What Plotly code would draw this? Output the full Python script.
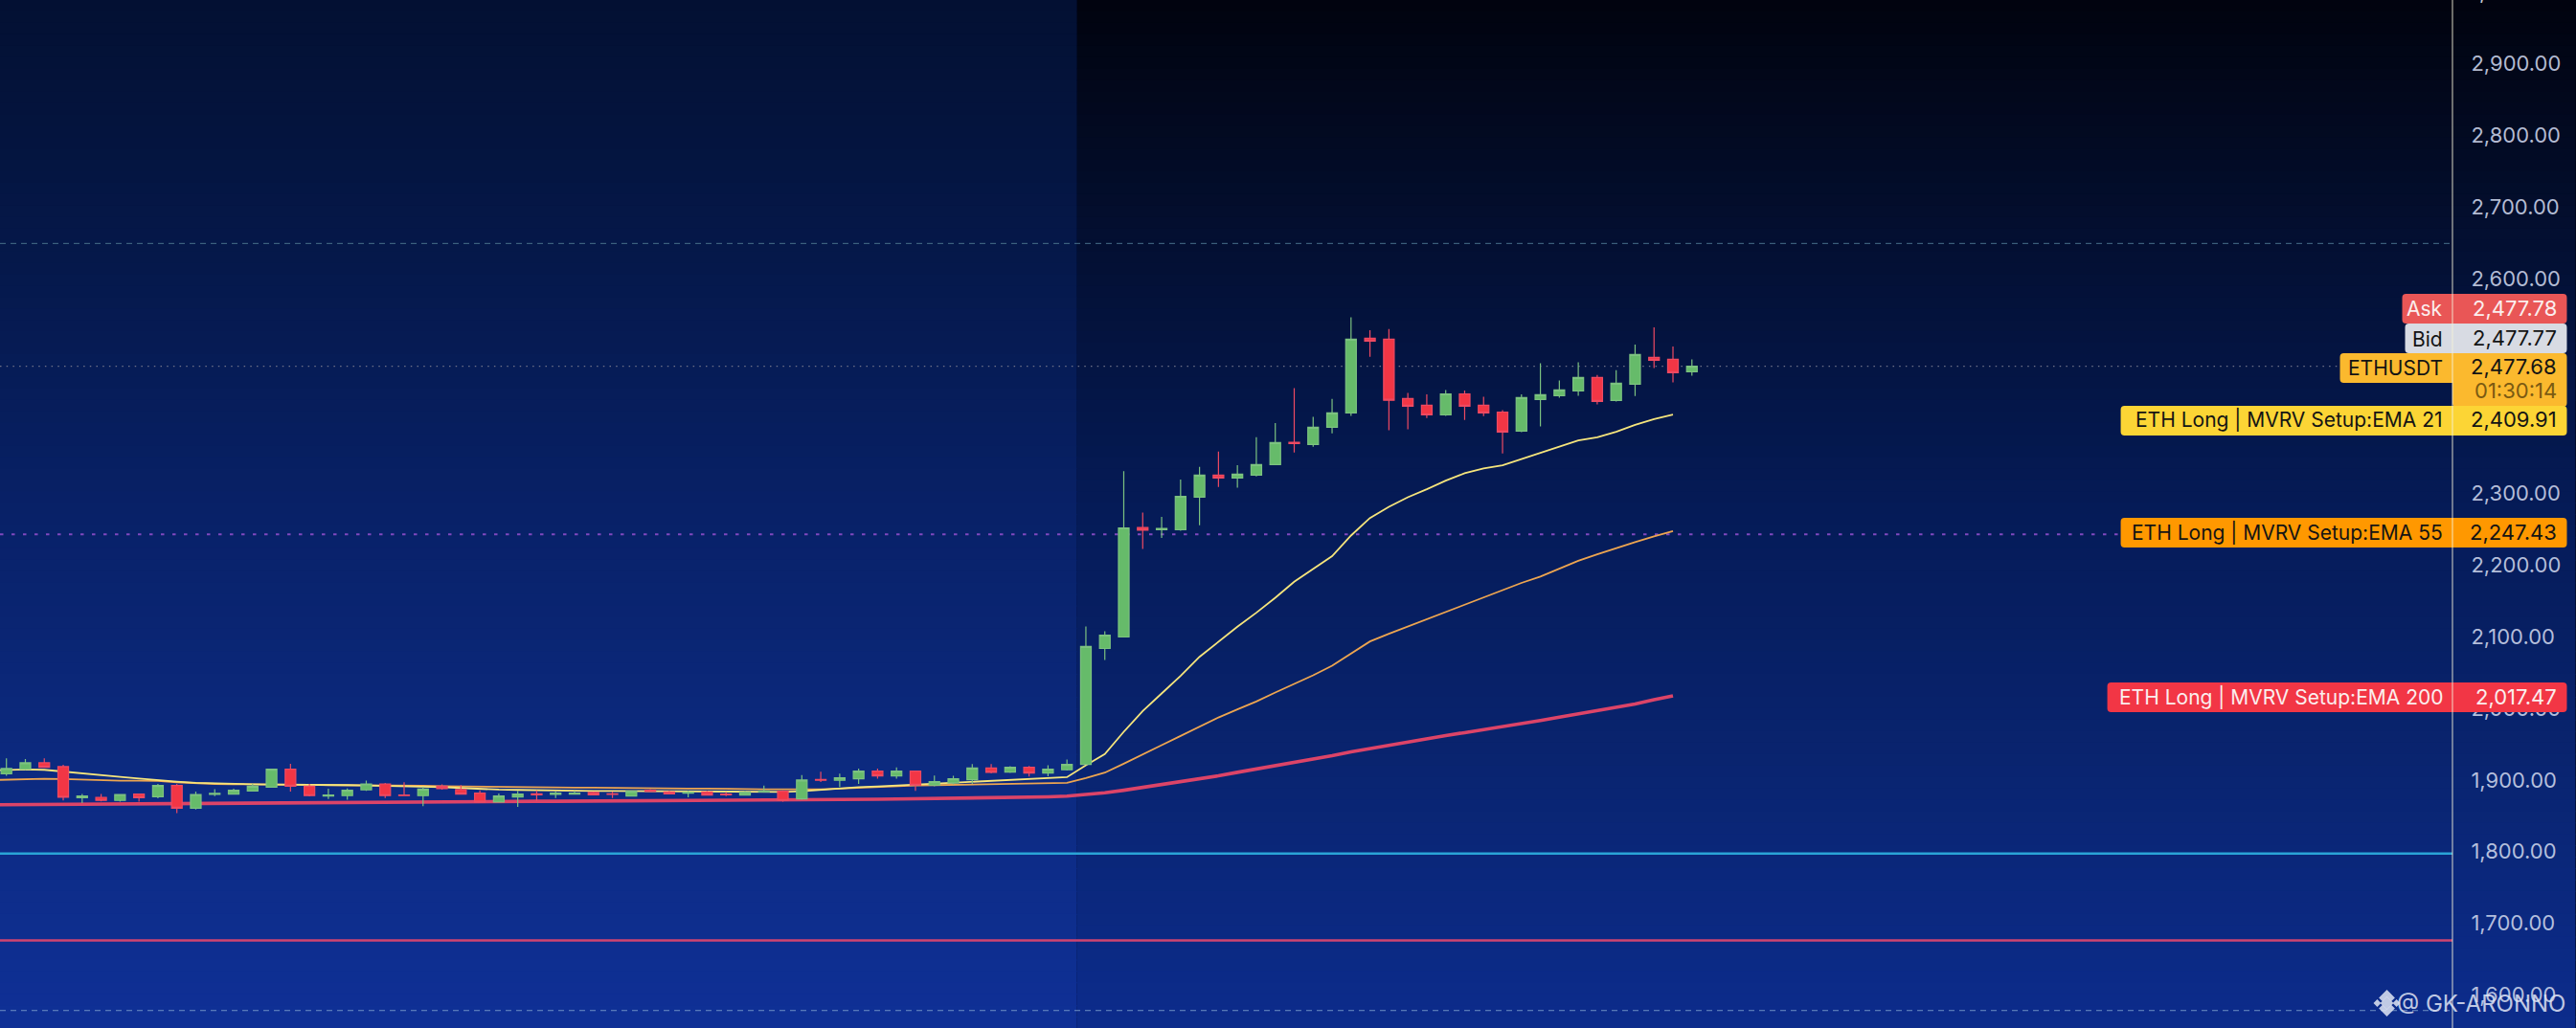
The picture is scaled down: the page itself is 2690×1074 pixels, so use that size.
import plotly.graph_objects as go

# ---------- data ----------
opens = [1908.7,1914.9,1923.9,1918.5,1875.3,1875.7,1871.3,1880.2,1876.6,1892.2,
1860.6,1879.7,1880.2,1884.6,1890.0,1914.9,1891.3,1877.5,1878.0,1886.0,
1894.4,1878.9,1878.0,1891.3,1886.4,1881.5,1869.1,1876.2,1880.6,1879.7,
1880.2,1882.4,1880.6,1877.5,1885.5,1883.3,1881.5,1883.3,1880.2,1878.9,
1883.3,1884.2,1873.5,1900.7,1899.4,1901.6,1912.3,1905.6,1912.3,1892.7,
1895.8,1900.2,1916.7,1910.9,1917.6,1909.6,1914.1,1921.7,2083.5,2099.5,
2252.4,2249.3,2249.3,2294.7,2325.5,2321.4,2325.5,2340.2,2371.3,2368.2,
2392.3,2412.3,2516.6,2515.2,2432.4,2423.0,2409.6,2439.0,2423.0,2413.6,
2386.9,2431.0,2436.4,2443.1,2461.8,2429.7,2452.4,2489.8,2487.2,2469.8]
highs = [1930.1,1929.2,1930.1,1921.2,1880.2,1880.2,1879.7,1881.1,1894.4,1894.4,
1883.8,1886.9,1887.8,1894.4,1914.9,1922.5,1894.4,1887.8,1888.2,1898.9,
1895.8,1896.7,1890.0,1893.6,1892.7,1885.5,1881.1,1884.6,1885.5,1883.8,
1884.6,1883.8,1883.8,1884.6,1886.9,1884.6,1884.6,1884.6,1882.9,1884.6,
1892.2,1885.5,1906.9,1911.4,1908.7,1915.8,1915.8,1917.6,1913.2,1906.0,
1905.6,1922.1,1922.1,1919.0,1919.4,1920.3,1928.3,2114.2,2107.6,2331.2,
2273.3,2267.1,2319.2,2337.0,2358.4,2339.3,2378.5,2398.1,2447.1,2407.0,
2431.9,2546.0,2527.7,2529.5,2440.4,2438.2,2444.4,2443.5,2435.0,2416.3,
2438.2,2481.8,2457.8,2483.2,2465.4,2472.0,2507.7,2531.7,2505.0,2487.2]
lows = [1905.6,1913.6,1916.7,1871.3,1867.7,1869.9,1869.5,1869.5,1874.4,1853.5,
1858.8,1877.5,1879.3,1883.8,1889.1,1883.8,1877.1,1873.5,1872.2,1884.6,
1874.8,1877.5,1863.3,1886.4,1879.7,1868.6,1868.6,1862.4,1870.4,1874.8,
1879.7,1878.9,1874.8,1877.1,1883.3,1880.2,1875.7,1878.4,1877.5,1878.4,
1882.4,1869.5,1872.2,1897.1,1890.0,1894.4,1901.6,1901.6,1884.6,1890.9,
1893.6,1894.4,1909.2,1909.6,1904.7,1905.1,1913.2,1921.7,2067.4,2099.5,
2222.5,2237.7,2247.9,2255.5,2309.0,2308.1,2323.7,2340.2,2357.1,2365.1,
2383.8,2408.3,2490.7,2388.2,2389.6,2405.2,2408.3,2402.5,2407.9,2355.7,
2385.6,2393.6,2433.7,2436.4,2424.4,2428.4,2435.9,2475.1,2455.1,2464.4]
closes = [1915.8,1923.9,1917.6,1875.7,1877.5,1871.3,1879.7,1875.3,1892.2,1860.6,
1879.7,1881.1,1885.5,1891.3,1914.9,1891.3,1878.0,1878.9,1885.5,1894.4,
1878.0,1878.0,1887.3,1887.8,1880.2,1869.1,1877.5,1880.2,1879.3,1881.5,
1881.5,1879.3,1879.7,1884.2,1883.8,1880.6,1882.9,1878.9,1879.3,1882.9,
1884.6,1871.3,1899.8,1899.4,1902.9,1912.3,1905.6,1912.3,1892.7,1897.6,
1901.6,1916.7,1910.5,1917.6,1909.6,1914.9,1921.6,2086.2,2102.2,2251.9,
2248.8,2251.0,2296.0,2325.5,2321.4,2326.8,2340.2,2370.9,2369.6,2392.3,
2412.3,2515.3,2512.6,2430.1,2421.7,2409.6,2439.0,2421.7,2412.3,2385.6,
2433.7,2437.7,2444.4,2461.8,2428.4,2453.8,2493.9,2485.8,2468.5,2477.68]

# EMA values start one bar before the first visible candle (index -1)
ema21 = [1913.0,1913.6,1914.5,1914.1,1911.4,1908.7,1906.5,1904.3,1902.0,1899.4,1897.6,
1895.8,1894.9,1894.4,1894.0,1893.6,1893.6,1893.1,1892.7,1892.7,1892.2,
1891.8,1891.3,1890.9,1890.0,1888.7,1887.3,1886.4,1886.0,1885.5,1885.5,
1885.1,1884.6,1884.6,1884.4,1884.2,1884.2,1884.2,1883.8,1883.8,1883.8,
1883.8,1883.3,1884.2,1886.4,1888.7,1890.0,1890.9,1892.2,1893.6,1894.4,
1895.3,1897.6,1898.9,1899.8,1900.7,1902.0,1903.8,1920.4,1936.0,1967.2,
1996.2,2020.7,2045.2,2071.9,2093.3,2113.8,2133.4,2154.3,2176.6,2194.4,
2212.3,2241.2,2265.7,2281.3,2294.7,2305.8,2317.8,2328.1,2334.8,2339.2,
2348.1,2357.1,2366.0,2374.0,2378.4,2386.0,2395.8,2403.8,2409.91]
ema55 = [1899.6,1900.2,1901.6,1901.6,1901.2,1900.2,1899.4,1898.9,1898.9,1898.5,1896.7,
1895.3,1894.4,1894.0,1894.0,1893.6,1893.6,1893.1,1892.7,1892.7,1892.2,
1892.2,1891.8,1891.8,1891.3,1890.9,1890.4,1890.0,1890.0,1889.6,1889.6,
1889.1,1889.1,1888.7,1888.7,1888.2,1888.2,1887.8,1887.8,1887.3,1887.3,
1886.9,1886.9,1886.4,1886.9,1887.8,1889.1,1890.0,1891.3,1892.2,1892.7,
1893.1,1893.6,1894.0,1894.0,1894.4,1894.9,1895.8,1902.6,1910.1,1922.6,
1936.0,1948.5,1961.4,1974.8,1987.2,1998.4,2009.5,2022.0,2034.0,2046.1,
2059.4,2076.4,2093.3,2104.0,2114.2,2125.0,2135.0,2145.0,2155.0,2165.0,
2175.0,2184.0,2195.0,2206.0,2215.0,2224.0,2232.0,2240.0,2247.43]
ema200 = [1865.3,1865.5,1865.8,1866.0,1866.2,1866.4,1866.6,1866.8,1867.0,1867.2,1867.4,
1867.6,1867.8,1868.0,1868.2,1868.4,1868.6,1868.7,1868.8,1868.9,1869.0,
1869.2,1869.3,1869.5,1869.6,1869.7,1869.8,1869.9,1870.0,1870.1,1870.2,
1870.3,1870.4,1870.5,1870.6,1870.7,1870.8,1870.9,1871.0,1871.1,1871.2,
1871.3,1871.4,1871.6,1871.8,1872.2,1872.6,1873.0,1873.3,1873.6,1873.9,
1874.2,1874.5,1874.8,1875.2,1875.7,1876.4,1877.3,1879.5,1882.0,1885.5,
1889.5,1892.8,1897.2,1901.2,1905.7,1910.6,1915.0,1919.5,1923.9,1929.3,
1933.8,1939.1,1943.6,1948.4,1953.8,1958.0,1962.0,1966.0,1970.0,1974.5,
1979.0,1983.0,1987.5,1992.0,1996.0,2001.0,2006.0,2012.0,2017.47]

tick_values = [1600,1700,1800,1900,2000,2100,2200,2300,2400,2500,2600,2700,2800,2900]
tick_labels = ["1,600.00","1,700.00","1,800.00","1,900.00","2,000.00","2,100.00","2,200.00",
               "2,300.00","2,400.00","2,500.00","2,600.00","2,700.00","2,800.00","2,900.00"]
top_tick_label = "3,000.00"

level_blue = 1797
level_red = 1676
level_dash_top = 2649
level_dash_bottom = 1578
level_dot_purple = 2243
level_dot_price = 2477.68

tag_names = ["Ask","Bid","ETHUSDT","ETH Long | MVRV Setup:EMA 21","ETH Long | MVRV Setup:EMA 55","ETH Long | MVRV Setup:EMA 200"]
tag_values = ["2,477.78","2,477.77","2,477.68","2,409.91","2,247.43","2,017.47"]
countdown = "01:30:14"
watermark = "@ GK-ARONNO"

# ---------- page geometry ----------
W, H = 2690, 1074
AXIS_X = 2561.5
Y_RANGE = [1553.6, 2988.9]
X_RANGE = [-0.339, 129.16]
SPLIT_X = 1125
FONT = "Inter, Liberation Sans, sans-serif"

def px(x): return x / AXIS_X
def py(y): return 1 - y / H

def lerp_color(stops, y):
    for (y0, c0), (y1, c1) in zip(stops, stops[1:]):
        if y <= y1:
            t = (y - y0) / (y1 - y0)
            return "rgb(%d,%d,%d)" % tuple(round(a + (b - a) * t) for a, b in zip(c0, c1))
    return "rgb(%d,%d,%d)" % stops[-1][1]

grad_left = [(0,(3,16,50)),(270,(5,24,74)),(540,(8,33,104)),(800,(12,42,128)),(1074,(15,48,150))]
grad_right = [(0,(1,3,14)),(270,(3,16,52)),(540,(5,27,88)),(800,(9,36,112)),(1074,(12,44,140))]

shapes = []
BANDS = 90
for (x0, x1, stops) in [(0, SPLIT_X, grad_left), (SPLIT_X, W, grad_right)]:
    for b in range(BANDS):
        y0 = H * b / BANDS
        y1 = H * (b + 1) / BANDS + 1
        shapes.append(dict(type="rect", xref="paper", yref="paper", layer="below",
                           x0=px(x0), x1=px(x1), y0=py(y0), y1=py(min(y1, H)),
                           fillcolor=lerp_color(stops, (y0 + y1) / 2), line_width=0))

def hline(val, color, width, dash):
    return dict(type="line", xref="paper", yref="y", layer="below", x0=0, x1=1, y0=val, y1=val,
                line=dict(color=color, width=width, dash=dash))

shapes += [
    hline(level_dash_top, "#476f8a", 1, "6px,5px"),
    hline(level_dash_bottom, "#6f90c4", 1, "6px,5px"),
    hline(level_dot_price, "#6f7288", 1.2, "1.5px,5.2px"),
    hline(level_dot_purple, "#8048c0", 2, "3.5px,8.5px"),
    hline(level_blue, "#2aa4d6", 2.5, "solid"),
    hline(level_red, "#cf4470", 2.5, "solid"),
]

def rrect(x0, y0, x1, y1, color, r=4):
    p = ("M {a},{b} L {c},{b} Q {x1},{b} {x1},{d} L {x1},{e} Q {x1},{f} {c},{f} L {a},{f} "
         "Q {xx0},{f} {xx0},{e} L {xx0},{d} Q {xx0},{b} {a},{b} Z").format(
        a=px(x0 + r), c=px(x1 - r), x1=px(x1), xx0=px(x0),
        b=py(y0), d=py(y0 + r), e=py(y1 - r), f=py(y1))
    return dict(type="path", xref="paper", yref="paper", layer="above", path=p,
                fillcolor=color, line_width=0)

C_ASK, C_BID, C_PX, C_21, C_55, C_200 = "#E95656", "#D8DBE3", "#FBB92E", "#FCD535", "#FF9800", "#F23645"
R_EDGE = 2681
shapes += [
    rrect(2509, 307, R_EDGE, 338, C_ASK),
    rrect(2512, 338, R_EDGE, 369, C_BID),
    rrect(2444, 369, 2570, 400, C_PX),
    rrect(2561.5, 369, R_EDGE, 425, C_PX),
    rrect(2215, 424, R_EDGE, 455, C_21),
    rrect(2215, 541, R_EDGE, 572, C_55),
    rrect(2201, 713, R_EDGE, 744, C_200),
    dict(type="line", xref="paper", yref="paper", layer="above", x0=1, x1=1, y0=0, y1=1,
         line=dict(color="rgba(245,240,215,0.75)", width=1.2)),
]

# Binance-style mark drawn with diamonds and chevrons
def poly(points):
    return "M " + " L ".join(f"{px(x)},{py(y)}" for x, y in points) + " Z"
cx, cy, s = 2493, 1048, 14
icon_paths = [
    [(cx, cy-3.5*s/7), (cx+3.5*s/7, cy), (cx, cy+3.5*s/7), (cx-3.5*s/7, cy)],
    [(cx-s, cy), (cx-s*0.72, cy-s*0.28), (cx-s*0.44, cy), (cx-s*0.72, cy+s*0.28)],
    [(cx+s, cy), (cx+s*0.72, cy-s*0.28), (cx+s*0.44, cy), (cx+s*0.72, cy+s*0.28)],
    [(cx, cy-s), (cx+s*0.6, cy-s*0.4), (cx+s*0.32, cy-s*0.12), (cx, cy-s*0.44), (cx-s*0.32, cy-s*0.12), (cx-s*0.6, cy-s*0.4)],
    [(cx, cy+s), (cx+s*0.6, cy+s*0.4), (cx+s*0.32, cy+s*0.12), (cx, cy+s*0.44), (cx-s*0.32, cy+s*0.12), (cx-s*0.6, cy+s*0.4)],
]
for pts in icon_paths:
    shapes.append(dict(type="path", xref="paper", yref="paper", layer="above", path=poly(pts),
                       fillcolor="rgba(225,230,245,0.85)", line_width=0))

def note(text, x, y, color, size=21, anchor="right"):
    return dict(text=text, xref="paper", yref="paper", x=px(x), y=py(y), xanchor=anchor, yanchor="middle",
                showarrow=False, font=dict(family=FONT, size=size, color=color), borderpad=0)

DARK = "#141414"
VAL_X, NAME_X, VS = 2672, 2552, 22
annotations = [
    note(top_tick_label, 2672, -9, "#c4c9d6", size=VS),
    note(tag_names[0], NAME_X, 323, "#fbeeee"), note(tag_values[0], VAL_X, 322, "#fbeeee", size=VS),
    note(tag_names[1], NAME_X, 354, DARK), note(tag_values[1], VAL_X, 353, DARK, size=VS),
    note(tag_names[2], NAME_X, 385, DARK), note(tag_values[2], VAL_X, 383, DARK, size=VS),
    note(countdown, VAL_X, 408, "#7a5a12", size=VS),
    note(tag_names[3], NAME_X, 438, DARK), note(tag_values[3], VAL_X, 438, DARK, size=VS),
    note(tag_names[4], NAME_X, 556, DARK), note(tag_values[4], VAL_X, 556, DARK, size=VS),
    note(tag_names[5], NAME_X, 728, "#fbeeee"), note(tag_values[5], VAL_X, 728, "#fbeeee", size=VS),
    note(watermark, 2681, 1048, "rgba(225,230,245,0.85)", size=24),
]

x_all = list(range(len(opens)))
x_ema = list(range(-1, len(ema21) - 1))

fig = go.Figure()
fig.add_trace(go.Scatter(x=x_ema, y=ema200, mode="lines", line=dict(color="#DC4468", width=3.6), name="EMA 200", hoverinfo="skip"))
fig.add_trace(go.Scatter(x=x_ema, y=ema55, mode="lines", line=dict(color="#EDA550", width=1.8), name="EMA 55", hoverinfo="skip"))
fig.add_trace(go.Scatter(x=x_ema, y=ema21, mode="lines", line=dict(color="#F6E57C", width=1.8), name="EMA 21", hoverinfo="skip"))
fig.add_trace(go.Candlestick(
    x=x_all, open=opens, high=highs, low=lows, close=closes, xaxis="x2", yaxis="y2", name="ETHUSDT",
    increasing=dict(line=dict(color="#7CC280", width=1.2), fillcolor="#66BB6A"),
    decreasing=dict(line=dict(color="#EE4A62", width=1.2), fillcolor="#F23645"),
    whiskerwidth=0, hoverinfo="skip",
))

fig.update_layout(
    width=W, height=H, showlegend=False, hovermode=False,
    margin=dict(l=0, r=W - AXIS_X, t=0, b=0, autoexpand=False),
    paper_bgcolor="#01030e", plot_bgcolor="rgba(0,0,0,0)",
    boxgap=0.2,
    shapes=shapes, annotations=annotations,
    font=dict(family=FONT),
    xaxis=dict(range=X_RANGE, visible=False, fixedrange=True, domain=[0, 1]),
    xaxis2=dict(range=X_RANGE, visible=False, fixedrange=True, overlaying="x", anchor="y2",
                rangeslider=dict(visible=False)),
    yaxis=dict(range=Y_RANGE, side="right", showgrid=False, zeroline=False, domain=[0, 1],
               tickmode="array", tickvals=tick_values, ticktext=tick_labels,
               ticks="outside", ticklen=14, tickcolor="rgba(0,0,0,0)",
               tickfont=dict(family=FONT, size=22, color="rgba(205,213,235,0.88)"),
               showline=False, fixedrange=True),
    yaxis2=dict(range=Y_RANGE, visible=False, overlaying="y", anchor="x2", fixedrange=True),
)

fig.write_html("out.html", config=dict(displayModeBar=False),
               post_script="document.body.style.margin='0';document.body.style.overflow='hidden';document.body.style.background='#01030e';")
